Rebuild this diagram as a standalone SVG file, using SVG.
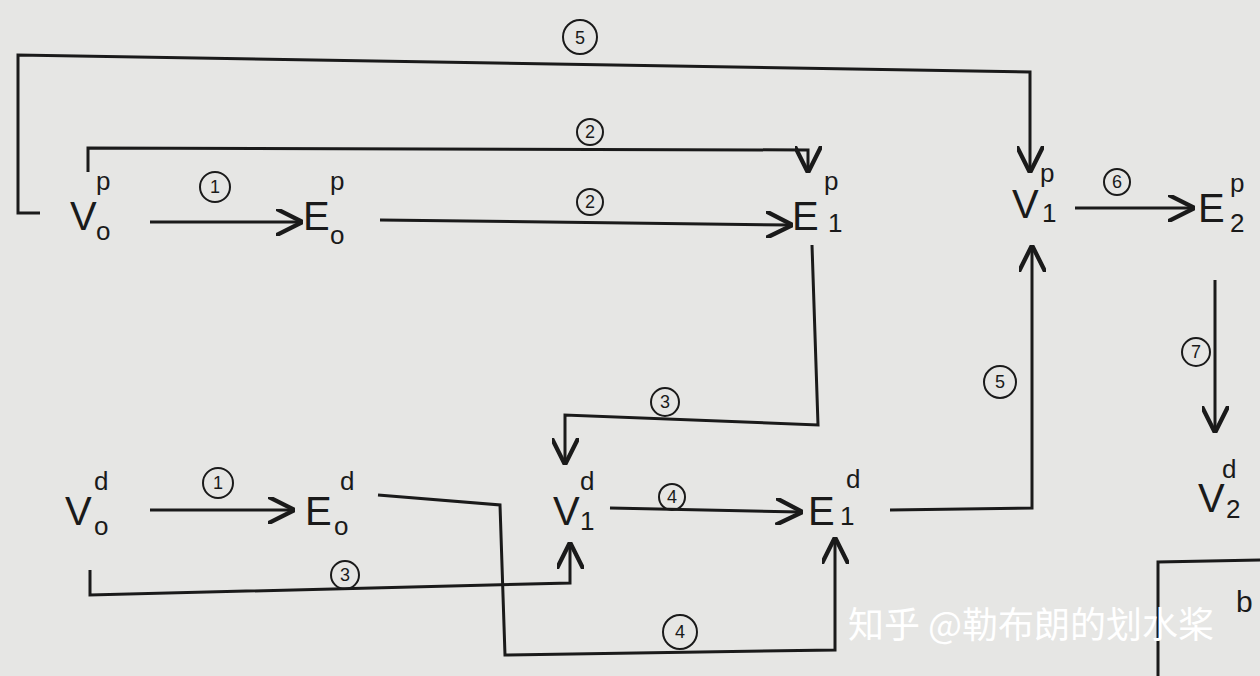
<svg xmlns="http://www.w3.org/2000/svg" width="1260" height="676" viewBox="0 0 1260 676">
<defs>
<marker id="a" viewBox="0 0 10 10" refX="9" refY="5" markerWidth="9" markerHeight="9" orient="auto-start-reverse"><path d="M0,0 L10,5 L0,10" fill="none" stroke="#1a1a1a" stroke-width="1.6"/></marker>
</defs>
<style>
.c{fill:none;stroke:#1a1a1a;stroke-width:3}
.n{font-family:"Liberation Sans",sans-serif;font-size:40px;fill:#1a1a1a}
.s{font-family:"Liberation Sans",sans-serif;font-size:26px;fill:#1a1a1a}
.l{font-family:"Liberation Sans",sans-serif;font-size:18px;fill:#1a1a1a;text-anchor:middle}
.lc{fill:none;stroke:#1a1a1a;stroke-width:2}
</style>
<rect width="1260" height="676" fill="#e6e6e4"/>
<g id="connectors">
<path class="c" d="M40,213 L18,213 L18,55 L1030,72 L1030,170" marker-end="url(#a)"/>
<path class="c" d="M88,172 L88,148 L808,150 L808,170" marker-end="url(#a)"/>
<path class="c" d="M150,222 L300,222" marker-end="url(#a)"/>
<path class="c" d="M380,220 L790,225" marker-end="url(#a)"/>
<path class="c" d="M812,245 L818,425 L565,415 L565,462" marker-end="url(#a)"/>
<path class="c" d="M890,510 L1032,508 L1032,248" marker-end="url(#a)"/>
<path class="c" d="M1075,208 L1192,208" marker-end="url(#a)"/>
<path class="c" d="M1215,280 L1215,430" marker-end="url(#a)"/>
<path class="c" d="M150,510 L292,510" marker-end="url(#a)"/>
<path class="c" d="M610,508 L800,512" marker-end="url(#a)"/>
<path class="c" d="M90,570 L90,595 L570,583 L570,545" marker-end="url(#a)"/>
<path class="c" d="M378,495 L500,505 L505,655 L835,650 L835,540" marker-end="url(#a)"/>
<g>
<circle class="lc" cx="580" cy="37" r="17"/><text class="l" x="580" y="44">5</text>
<circle class="lc" cx="590" cy="132" r="13"/><text class="l" x="590" y="138">2</text>
<circle class="lc" cx="215" cy="187" r="15"/><text class="l" x="215" y="193">1</text>
<circle class="lc" cx="590" cy="202" r="13"/><text class="l" x="590" y="208">2</text>
<circle class="lc" cx="665" cy="402" r="14"/><text class="l" x="665" y="408">3</text>
<circle class="lc" cx="1000" cy="382" r="16"/><text class="l" x="1000" y="388">5</text>
<circle class="lc" cx="1117" cy="182" r="13"/><text class="l" x="1117" y="188">6</text>
<circle class="lc" cx="1196" cy="352" r="14"/><text class="l" x="1196" y="358">7</text>
<circle class="lc" cx="218" cy="483" r="15"/><text class="l" x="218" y="489">1</text>
<circle class="lc" cx="672" cy="497" r="13"/><text class="l" x="672" y="503">4</text>
<circle class="lc" cx="345" cy="575" r="14"/><text class="l" x="345" y="581">3</text>
<circle class="lc" cx="680" cy="632" r="17"/><text class="l" x="680" y="638">4</text>
</g>
</g>
<g id="V0p"><text class="n" x="70" y="230">V</text><text class="s" x="96" y="190">p</text><text class="s" x="96" y="240">o</text></g>
<g id="E0p"><text class="n" x="303" y="230">E</text><text class="s" x="330" y="190">p</text><text class="s" x="330" y="244">o</text></g>
<g id="E1p"><text class="n" x="792" y="230">E</text><text class="s" x="824" y="190">p</text><text class="s" x="828" y="232">1</text></g>
<g id="V1p"><text class="n" x="1012" y="218">V</text><text class="s" x="1040" y="182">p</text><text class="s" x="1042" y="222">1</text></g>
<g id="E2p"><text class="n" x="1198" y="222">E</text><text class="s" x="1230" y="192">p</text><text class="s" x="1230" y="232">2</text></g>
<g id="V2d"><text class="n" x="1198" y="512">V</text><text class="s" x="1222" y="478">d</text><text class="s" x="1226" y="518">2</text></g>
<g id="V0d"><text class="n" x="65" y="525">V</text><text class="s" x="94" y="490">d</text><text class="s" x="94" y="535">o</text></g>
<g id="E0d"><text class="n" x="305" y="525">E</text><text class="s" x="340" y="490">d</text><text class="s" x="334" y="535">o</text></g>
<g id="V1d"><text class="n" x="553" y="525">V</text><text class="s" x="580" y="490">d</text><text class="s" x="580" y="530">1</text></g>
<g id="E1d"><text class="n" x="808" y="525">E</text><text class="s" x="846" y="488">d</text><text class="s" x="840" y="525">1</text></g>
<path class="c" d="M1158,676 L1158,562 L1260,560"/>
<text x="1236" y="612" font-family="Liberation Sans,sans-serif" font-size="30" fill="#1a1a1a">b</text>
<text x="848" y="638" font-family="Noto Sans CJK SC,sans-serif" font-size="36" fill="#ffffff">知乎 @勒布朗的划水桨</text>
</svg>
